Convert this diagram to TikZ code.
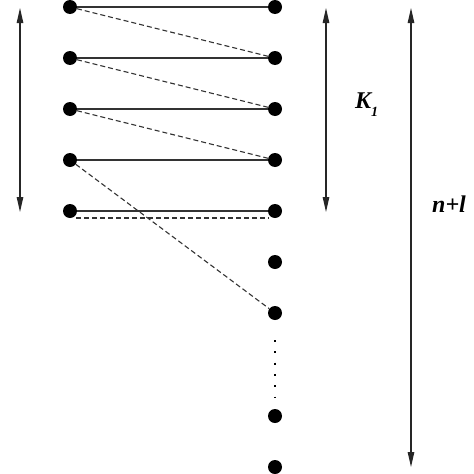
\documentclass[tikz,border=0pt]{standalone}
\usepackage{fontspec}
\setmainfont{Liberation Serif}
\usetikzlibrary{arrows.meta}
\begin{document}
\begin{tikzpicture}[x=1pt,y=-1pt,
  dot/.style={circle,fill=black,inner sep=0pt,minimum size=14pt},
  edge/.style={line width=1.1pt,draw=black!80},
  dashedge/.style={line width=1.1pt,draw=black!80,dash pattern=on 5pt off 3pt},
  span/.style={line width=1.1pt,draw=black!85,{Triangle[length=15pt,width=6.5pt]}-{Triangle[length=15pt,width=6.5pt]}},
  lbl/.style={font=\fontsize{24}{24}\selectfont\bfseries\itshape,inner sep=0pt,anchor=base west}]
\useasboundingbox (0,0) rectangle (474,474);
\foreach \i/\y in {1/7,2/58,3/109,4/160,5/211}{
  \node[dot] (L\i) at (70,\y) {};}
\foreach \i/\y in {1/7,2/58,3/109,4/160,5/211,6/262,7/313,8/416,9/467}{
  \node[dot] (R\i) at (275,\y) {};}
\foreach \i in {1,...,5}{\draw[edge] (L\i) -- (R\i);}
\draw[dashedge] (L1) -- (R2);
\draw[dashedge] (L2) -- (R3);
\draw[dashedge] (L3) -- (R4);
\draw[dashedge] (L4) -- (R7);
\draw[dashedge,shorten <=6pt,shorten >=6pt] ([yshift=-7pt]L5.center) -- ([yshift=-7pt]R5.center);
\coordinate (d1) at (275,340);
\coordinate (d2) at (275,398);
\draw[line width=2pt,dash pattern=on 2pt off 9.3pt] (d1) -- (d2);
\coordinate (a1) at (20,8);
\coordinate (a2) at (20,212);
\draw[span] (a1) -- (a2);
\coordinate (k1) at (326,8);
\coordinate (k2) at (326,212);
\draw[span] (k1) -- (k2);
\coordinate (n1) at (411,8);
\coordinate (n2) at (411,467);
\draw[span] (n1) -- (n2);
\node[lbl] (K) at (355,108) {K\raisebox{-8pt}{\fontsize{14}{14}\selectfont 1}};
\node[lbl] (N) at (432,212) {n+l};
\end{tikzpicture}
\end{document}
